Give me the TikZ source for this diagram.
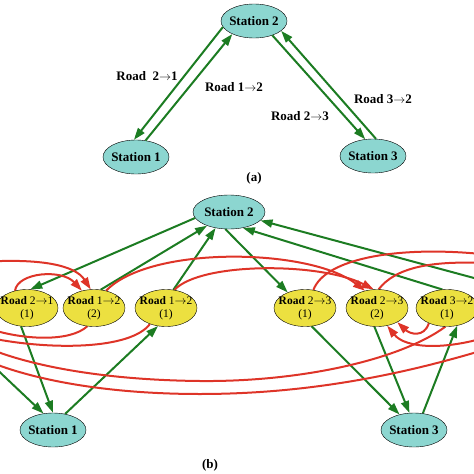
\documentclass[tikz,border=0pt]{standalone}
\usepackage{fontspec}
\setmainfont{Liberation Serif}
\usepackage{xcolor}
\usetikzlibrary{arrows.meta,shapes.geometric,backgrounds}

\definecolor{linkgreen}{RGB}{28,124,34}
\definecolor{turnred}{RGB}{222,52,40}
\definecolor{stationfill}{RGB}{140,214,208}
\definecolor{roadfill}{RGB}{236,224,64}

\begin{document}
\begin{tikzpicture}[x=1pt,y=-1pt,
    station/.style={ellipse,draw=black,fill=stationfill,minimum width=66pt,minimum height=34pt,inner xsep=-2pt,inner ysep=0pt,font=\fontsize{13}{14}\selectfont\bfseries},
    road/.style={ellipse,draw=black,fill=roadfill,minimum width=62pt,minimum height=37pt,inner xsep=-5pt,inner ysep=0pt,align=center,font=\fontsize{11.5}{12.5}\selectfont},
    lbl/.style={font=\fontsize{13}{14}\selectfont\bfseries},
    link/.style={draw=linkgreen,line width=2pt,-{Triangle[length=12pt,width=8pt]}},
    turn/.style={draw=turnred,line width=2pt,-{Triangle[length=12pt,width=8pt]}}]
        \useasboundingbox (0,0) rectangle (474,474);
        \clip (0,0) rectangle (474,474);

        % (a) the three stations and their roads
        \node[station] (st2a) at (254,21) {Station 2};
        \node[station] (st1a) at (136,157) {Station 1};
        \node[station] (st3a) at (373,156) {Station 3};
        \draw[link] (st2a.191) -- (st1a.97);
        \draw[link] (st1a.60) -- (st2a.211);
        \draw[link] (st2a.322) -- (st3a.115);
        \draw[link] (st3a.80) -- (st2a.340);
        \node[lbl] (l21) at (147,76) {Road\ \ 2$\rightarrow$1};
        \node[lbl] (l12) at (234,87) {Road 1$\rightarrow$2};
        \node[lbl] (l32) at (383,99) {Road 3$\rightarrow$2};
        \node[lbl] (l23) at (300,116) {Road 2$\rightarrow$3};
        \node[lbl] (capa) at (254,178) {(a)};

        % (b) stations and road nodes
        \node[station,minimum width=72pt] (st2b) at (229,212) {Station 2};
        \node[station] (st1b) at (53,430) {Station 1};
        \node[station] (st3b) at (414,430) {Station 3};
        \foreach \nm/\x/\a/\b/\k in {r21/27/2/1/1, r12b/94/1/2/2, r12a/166/1/2/1,
                                     r23a/305/2/3/1, r23b/377/2/3/2, r32a/447/3/2/1} {
          \node[road] (\nm) at (\x,308) {\textbf{Road} \a$\rightarrow$\b\\(\k)};
        }
        \node[lbl] (capb) at (210,465) {(b)};

        % free ends of links leaving the picture
        \coordinate (in1) at (-12,361);
        \coordinate (in2) at (500,285);
        \coordinate (w1) at (-20,262);
        \coordinate (w3) at (-20,345);
        \coordinate (w4) at (-20,358);
        \coordinate (w5) at (-20,326);
        \coordinate (w6) at (-20,336);
        \coordinate (e1) at (500,256);
        \coordinate (e2) at (500,264);
        \coordinate (e3) at (500,333);
        \coordinate (e4) at (500,345);

        \begin{scope}[on background layer]
        \clip (0,0) rectangle (474,474);
        % Draw green links
        \draw[link] (st2b.190) -- (r21.80);
        \draw[link] (r12b.70) -- (st2b.212);
        \draw[link] (r12a.68) -- (st2b.230);
        \draw[link] (st2b.258) -- (r23a.138);
        \draw[link] (r21.252) -- (st1b.90);
        \draw[link] (st1b.53) -- (r12a.246);
        \draw[link] (in1) -- (st1b.120);
        \draw[link] (r23a.290) -- (st3b.133);
        \draw[link] (r23b.262) -- (st3b.105);
        \draw[link] (st3b.62) -- (r32a.300);
        \draw[link] (r32a.104) -- (st2b.311);
        \draw[link] (in2) -- (st2b.345);
        % Draw red turns
        \draw[turn] (r21.125) .. controls (18,272) and (62,269) .. (r12b.125);
        \draw[turn] (w1) .. controls (40,258) and (75,265) .. (r12b.100);
        \draw[turn] (r12b.55) .. controls (150,245) and (310,248) .. (r23b.125);
        \draw[turn] (r12a.65) .. controls (200,262) and (320,262) .. (r23b.100);
        \draw[turn] (r23a.65) .. controls (325,258) and (400,245) .. (e1);
        \draw[turn] (r23b.85) .. controls (395,268) and (430,260) .. (e2);
        \draw[turn] (r32a.220) .. controls (424,338) and (410,334) .. (r23b.325);
        \draw[turn] (e3) .. controls (445,352) and (405,348) .. (r23b.300);
        \draw[turn] (r32a.265) .. controls (400,360) and (300,382) .. (200,381)
                               .. controls (100,380) and (30,365) .. (w3);
        \draw[turn] (e4) .. controls (420,370) and (320,394) .. (200,394)
                         .. controls (100,394) and (30,378) .. (w4);
        \draw[turn] (r12b.250) .. controls (70,342) and (25,340) .. (w5);
        \draw[turn] (r12a.225) .. controls (130,350) and (50,350) .. (w6);
        \end{scope}
    \end{tikzpicture}
\end{document}
